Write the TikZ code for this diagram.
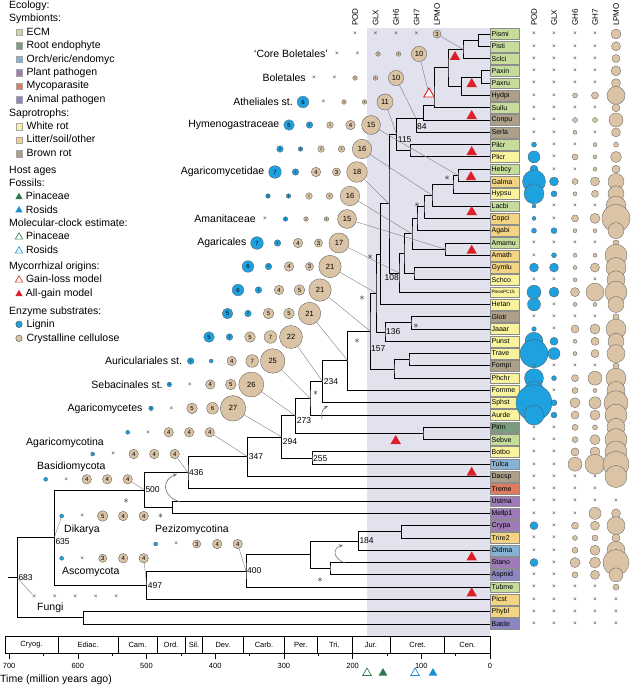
\documentclass[tikz,border=0pt]{standalone}
\usepackage{fontspec}
\setmainfont{Liberation Sans}
\usetikzlibrary{positioning,shapes.geometric,arrows.meta}

\definecolor{ecm}{HTML}{C5DC9B}
\definecolor{rootend}{HTML}{7C9C80}
\definecolor{orch}{HTML}{86B3D3}
\definecolor{plantpath}{HTML}{A07BBA}
\definecolor{mycopar}{HTML}{DD7C5E}
\definecolor{animpath}{HTML}{8B87C3}
\definecolor{whiterot}{HTML}{FAF39E}
\definecolor{litter}{HTML}{F3D384}
\definecolor{brownrot}{HTML}{ADA08B}
\definecolor{ligblue}{HTML}{1DA1DF}
\definecolor{celtan}{HTML}{DBC4A6}
\definecolor{jurshade}{HTML}{E2E1EE}
\definecolor{gainred}{HTML}{DA2128}
\definecolor{pingreen}{HTML}{2E7A4C}
\definecolor{rosblue}{HTML}{1C8FD2}

% number size inside the ancestral-state circles
\newcommand\numfont[1]{\ifnum#1<3 \fontsize{3.6}{4}\selectfont\else\ifnum#1<10 \fontsize{6}{7}\selectfont\else\fontsize{7.5}{8}\selectfont\fi\fi}
% one marker: x, b, bN or cN
\newcommand\mkr[4]{\mkrparse{#1}{#2}{#3}#4\relax}
\def\mkrparse#1#2#3#4#5\relax{%
  \if x#4\node[nomark] (#1) at (#2,#3) {×};\fi
  \if b#4\ifx\relax#5\relax\node[lig=1, minimum size=4pt] (#1) at (#2,#3) {};\else\node[lig=#5] (#1) at (#2,#3) {#5};\fi\fi
  \if c#4\node[cel=#5] (#1) at (#2,#3) {#5};\fi}
% a row of five markers
\newcommand\cladrow[4]{\foreach \s [count=\k] in {#4}{%
  \pgfmathsetmacro\px{#2+20.5*(\k-1)}%
  \edef\tmp{\noexpand\mkrparse{#1\k}{\px}{#3}\s\relax}\tmp}}
% right-hand gene counts
\newcommand\rcirc[5]{\ifdim#4pt>0pt \node[datac, fill=#5, minimum size={2*#4}] (#1) at (#2,#3) {};\else\ifdim#4pt=0pt \node[nomark] (#1) at (#2,#3) {×};\fi\fi}

\def\taxadata{Pismi/ecm/0/0/0/0/5, Pisti/ecm/0/0/0/0/4.5, Sclci/ecm/0/0/0/0/4,
 Paxin/ecm/0/0/0/0/5, Paxru/ecm/0/0/0/0/4.5, Hydpi/brownrot/0/0/2.5/3.5/9,
 Suilu/ecm/0/0/0/0/4, Conpu/brownrot/0/0/2.5/2.5/7, Serla/brownrot/0/0/2/0/4.5,
 Pilcr/ecm/2.5/0/0/2/2.5, Plicr/whiterot/6/0/3/2/5.5, Hebcy/ecm/4/0/0/2/4,
 Galma/litter/11.5/4.5/3/4.5/8, Hypsu/whiterot/10/3/2/3.5/8, Lacbi/ecm/2/0/0/0/10,
 Copci/litter/2/0/3.5/5/14, Agabi/litter/2.5/3/2/2/8, Amamu/ecm/0/0/0/0/3,
 Amath/litter/0/2.5/2/2/11, Gymlu/litter/4.5/4.5/2/4.5/10, Schco/whiterot/0/0/2/0/9,
 PleosPC15/whiterot/7/5/4.5/9/11, Hetan/whiterot/6.5/0/2/2/8, Glotr/brownrot/0/0/0/0/3,
 Jaaar/whiterot/2.3/0/4/5/10, Punst/whiterot/9/4/2/4/8, Trave/whiterot/14/6/2/4/9,
 Fompi/brownrot/2/0/0/0/3, Phchr/whiterot/9.5/2.5/3.5/7/10, Fomme/whiterot/9.5/0/3/2/9,
 Sphst/whiterot/18/3/5/6/12, Aurde/whiterot/10/3/4/5/11, Pirin/rootend/0/0/3/2.5/9,
 Sebve/ecm/0/0/3/5/11, Botbo/whiterot/0/0/4/5/11, Tulca/orch/0/0/7/10/13,
 Dacsp/brownrot/0/0/0/0/11, Treme/mycopar/0/0/0/0/-1, Ustma/plantpath/0/0/0/0/0,
 Mellp1/plantpath/0/0/0/6/4.5, Crypa/plantpath/4/0/3.5/4.5/9, Trire2/litter/0/0/2.5/3/4,
 Oidma/orch/0/0/3/5/9, Stano/plantpath/4/0/5/5.5/13, Aspnid/animpath/0/0/3/4.5/7,
 Tubme/ecm/0/0/0/0/3, Picst/litter/0/0/0/0/0, Phybl/litter/0/0/0/0/0, Batde/animpath/0/0/0/0/0}

\begin{document}
\begin{tikzpicture}[x=1pt,y=-1pt,
  branch/.style={line width=.9pt},
  gline/.style={draw=black!50, line width=.4pt},
  garrow/.style={draw=black!55, line width=.6pt, -{Stealth[length=4pt,width=3.6pt]}},
  taxon/.style={anchor=west, draw=black!45, line width=.3pt, minimum height=10.8pt,
    text width=26pt, inner xsep=1.5pt, inner ysep=0pt, font=\fontsize{7}{8}\selectfont},
  datac/.style={circle, draw=black!65, line width=.3pt, inner sep=0pt},
  lig/.style={circle, draw=black!65, fill=ligblue, line width=.3pt, inner sep=0pt,
    minimum size={4.6*(#1)^0.52}, font=\numfont{#1}},
  cel/.style={circle, draw=black!70, fill=celtan, line width=.3pt, inner sep=0pt,
    minimum size={4.6*(#1)^0.52}, font=\numfont{#1}},
  nomark/.style={inner sep=0pt, font=\fontsize{6.5}{6.5}\selectfont, text=black!75},
  clade/.style={font=\fontsize{10.5}{12}\selectfont, inner sep=0pt},
  lhead/.style={anchor=west, font=\fontsize{10.5}{12}\selectfont, inner sep=0pt, text height=7.5pt, text depth=2pt},
  litem/.style={font=\fontsize{10.5}{12}\selectfont, inner sep=0pt, text height=7.5pt, text depth=2pt},
  swatch/.style={minimum size=6.5pt, inner sep=0pt, draw=black!35, line width=.3pt},
  legtri/.style={regular polygon, regular polygon sides=3, minimum size=8.5pt, inner sep=0pt},
  gaintri/.style={regular polygon, regular polygon sides=3, minimum size=12pt, inner sep=0pt, fill=gainred},
  lossopen/.style={regular polygon, regular polygon sides=3, minimum size=12pt, inner sep=0pt, draw=gainred, fill=white, line width=.9pt},
  nodelab/.style={font=\fontsize{8.5}{9}\selectfont, inner sep=1pt},
  supp/.style={font=\fontsize{10}{10}\selectfont, inner sep=0pt},
  colhead/.style={rotate=90, anchor=west, font=\fontsize{8}{9}\selectfont, inner sep=0pt},
  period/.style={font=\fontsize{7.5}{8}\selectfont, inner sep=0pt},
  ticklab/.style={font=\fontsize{7.5}{8}\selectfont, inner sep=0pt}]
\useasboundingbox (0,0) rectangle (632,685);
\fill[jurshade] (367,28) rectangle (490,636);

% legend
\node[lhead] (lgEco) at (9,6) {Ecology:};
\node[lhead] (lgSym) at (9,19) {Symbionts:};
\foreach \t/\c [count=\k] in {ECM/ecm, Root endophyte/rootend, {Orch/eric/endomyc}/orch,
  Plant pathogen/plantpath, Mycoparasite/mycopar, Animal pathogen/animpath} {
  \node[swatch, fill=\c] (swA\k) at (19,{32.3+13.48*(\k-1)}) {};
  \node[litem, right=4pt of swA\k] (ltA\k) {\t};
}
\node[lhead] (lgSap) at (9,113.3) {Saprotrophs:};
\foreach \t/\c [count=\k] in {White rot/whiterot, {Litter/soil/other}/litter, Brown rot/brownrot} {
  \node[swatch, fill=\c] (swB\k) at (19,{126.7+13.5*(\k-1)}) {};
  \node[litem, right=4pt of swB\k] (ltB\k) {\t};
}
\node[lhead] (lgHost) at (9,170.3) {Host ages};
\node[lhead] (lgFos) at (9,183.7) {Fossils:};
\node[legtri, fill=pingreen] (lgT1) at (19,197) {};
\node[litem, right=4pt of lgT1] {Pinaceae};
\node[legtri, fill=rosblue] (lgT2) at (19,210.3) {};
\node[litem, right=4pt of lgT2] {Rosids};
\node[lhead] (lgMol) at (9,223.7) {Molecular-clock estimate:};
\node[legtri, draw=pingreen, line width=.6pt] (lgT3) at (19,237) {};
\node[litem, right=4pt of lgT3] {Pinaceae};
\node[legtri, draw=rosblue, line width=.6pt] (lgT4) at (19,251) {};
\node[litem, right=4pt of lgT4] {Rosids};
\node[lhead] (lgMyc) at (9,266.3) {Mycorrhizal origins:};
\node[legtri, draw=gainred, line width=.6pt] (lgT5) at (19,280) {};
\node[litem, right=4pt of lgT5] {Gain-loss model};
\node[legtri, fill=gainred] (lgT6) at (19,294) {};
\node[litem, right=4pt of lgT6] {All-gain model};
\node[lhead] (lgEnz) at (9,311.3) {Enzyme substrates:};
\node[circle, draw=black!70, fill=ligblue, minimum size=6.5pt, inner sep=0pt] (lgC1) at (19,324.3) {};
\node[litem, right=4pt of lgC1] {Lignin};
\node[circle, draw=black!70, fill=celtan, minimum size=6.5pt, inner sep=0pt] (lgC2) at (19,338.3) {};
\node[litem, right=4pt of lgC2] {Crystalline cellulose};

% taxa
\foreach \nm/\col/\p/\g/\hs/\hv/\l [count=\i from 0] in \taxadata {
  \pgfmathsetmacro\yy{34+12.2917*\i}
  \node[taxon, fill=\col] (\nm) at (490,\yy) {\ifnum\i=21 \fontsize{4.6}{5}\selectfont\fi\nm};
}

% internal nodes
\coordinate (nA) at (478.5,40.15);
\coordinate (nB) at (463,49.36);
\coordinate (nC) at (481.7,77.02);
\coordinate (nD) at (461.7,86.24);
\coordinate (nE) at (448,67.80);
\coordinate (nF) at (434,105);
\coordinate (nG) at (423.3,118.5);
\coordinate (nH) at (416,118.5);
\coordinate (nI) at (410,150.77);
\coordinate (nBA) at (396.7,134.45);
\coordinate (nJ) at (458,175.36);
\coordinate (nK) at (453,184.57);
\coordinate (nL) at (432,195.33);
\coordinate (nM) at (424,206.85);
\coordinate (nN) at (417,218.76);
\coordinate (nO) at (445,249.10);
\coordinate (nP) at (412,233.93);
\coordinate (nQ) at (414,273.69);
\coordinate (nR) at (404,253.81);
\coordinate (nS) at (399,272.97);
\coordinate (nT) at (389,203.71);
\coordinate (nU) at (380.7,254.07);
\coordinate (nX) at (411,322.85);
\coordinate (nW) at (385,332.07);
\coordinate (nV) at (376,293.07);
\coordinate (nZa) at (409,359.73);
\coordinate (nZb) at (394,368.95);
\coordinate (nY) at (370,331.01);
\coordinate (nAA) at (347.7,360.74);
\coordinate (nAB) at (322.7,381.74);
\coordinate (nAC) at (310,398.39);
\coordinate (nAD) at (423,433.48);
\coordinate (nAE) at (295.7,415.94);
\coordinate (nAG) at (312,458.07);
\coordinate (nAF) at (281.7,437.0);
\coordinate (nAH) at (247.7,456.75);
\coordinate (nAI) at (188,472.77);
\coordinate (nAK) at (172.7,507.23);
\coordinate (nAJ) at (144.3,490.0);
\coordinate (nAL) at (401.7,531.81);
\coordinate (nAM) at (358.3,541.03);
\coordinate (nAN) at (330,568.69);
\coordinate (nAO) at (310.7,554.86);
\coordinate (nAP) at (246,570.99);
\coordinate (nAQ) at (146.7,585.2);
\coordinate (nAR) at (54.3,537.6);
\coordinate (nAS) at (83.7,617.86);
\coordinate (nAT) at (17.3,577.73);
\coordinate (root) at (8,577.73);

% branches
\draw[branch] (Pismi.west) -| (nA) |- (Pisti.west);
\draw[branch] (nA) -| (nB) |- (Sclci.west);
\draw[branch] (Paxin.west) -| (nC) |- (Paxru.west);
\draw[branch] (nC) -| (nD) |- (Hydpi.west);
\draw[branch] (nB) -| (nE) |- (nD);
\draw[branch] (nE) -| (nF) |- (Suilu.west);
\draw[branch] (nF) -| (nG) |- (Conpu.west);
\draw[branch] (nG) -| (nH) |- (Serla.west);
\draw[branch] (Pilcr.west) -| (nI) |- (Plicr.west);
\draw[branch] (nH) -| (nBA) |- (nI);
\draw[branch] (Hebcy.west) -| (nJ) |- (Galma.west);
\draw[branch] (nJ) -| (nK) |- (Hypsu.west);
\draw[branch] (nK) -| (nL) |- (Lacbi.west);
\draw[branch] (nL) -| (nM) |- (Copci.west);
\draw[branch] (nM) -| (nN) |- (Agabi.west);
\draw[branch] (Amamu.west) -| (nO) |- (Amath.west);
\draw[branch] (nN) -| (nP) |- (nO);
\draw[branch] (Gymlu.west) -| (nQ) |- (Schco.west);
\draw[branch] (nP) -| (nR) |- (nQ);
\draw[branch] (nR) -| (nS) |- (PleosPC15.west);
\draw[branch] (nBA) -| (nT) |- (nS);
\draw[branch] (nT) -| (nU) |- (Hetan.west);
\draw[branch] (Glotr.west) -| (nX) |- (Jaaar.west);
\draw[branch] (nX) -| (nW) |- (Punst.west);
\draw[branch] (nU) -| (nV) |- (nW);
\draw[branch] (Trave.west) -| (nZa) |- (Fompi.west);
\draw[branch] (nZa) -| (nZb) |- (Phchr.west);
\draw[branch] (nV) -| (nY) |- (nZb);
\draw[branch] (nY) -| (nAA) |- (Fomme.west);
\draw[branch] (nAA) -| (nAB) |- (Sphst.west);
\draw[branch] (nAB) -| (nAC) |- (Aurde.west);
\draw[branch] (Pirin.west) -| (nAD) |- (Sebve.west);
\draw[branch] (nAC) -| (nAE) |- (nAD);
\draw[branch] (Botbo.west) -| (nAG) |- (Tulca.west);
\draw[branch] (nAE) -| (nAF) |- (nAG);
\draw[branch] (nAF) -| (nAH) |- (Dacsp.west);
\draw[branch] (nAH) -| (nAI) |- (Treme.west);
\draw[branch] (Ustma.west) -| (nAK) |- (Mellp1.west);
\draw[branch] (nAI) -| (nAJ) |- (nAK);
\draw[branch] (Crypa.west) -| (nAL) |- (Trire2.west);
\draw[branch] (nAL) -| (nAM) |- (Oidma.west);
\draw[branch] (Stano.west) -| (nAN) |- (Aspnid.west);
\draw[branch] (nAM) -| (nAO) |- (nAN);
\draw[branch] (nAO) -| (nAP) |- (Tubme.west);
\draw[branch] (nAP) -| (nAQ) |- (Picst.west);
\draw[branch] (nAJ) -| (nAR) |- (nAQ);
\draw[branch] (Phybl.west) -| (nAS) |- (Batde.west);
\draw[branch] (nAR) -| (nAT) |- (nAS);
\draw[branch] (root) -- (nAT);

% node ages
\node[nodelab, anchor=west] (a84) at (416,127) {84};
\node[nodelab, anchor=north west] (a115) at ([yshift=-1pt]nBA) {115};
\node[nodelab, anchor=north east] (a108) at ([xshift=1pt]nS) {108};
\node[nodelab, anchor=west] (a136) at (nW) {136};
\node[nodelab, anchor=west] (a157) at (370,349) {157};
\node[nodelab, anchor=west] (a234) at (nAB) {234};
\node[nodelab, anchor=north west] (a273) at (nAE) {273};
\node[nodelab, anchor=north west] (a294) at (nAF) {294};
\node[nodelab, anchor=west] (a347) at (nAH) {347};
\node[nodelab, anchor=west] (a255) at (nAG) {255};
\node[nodelab, anchor=west] (a436) at (nAI) {436};
\node[nodelab, anchor=west] (a500) at (nAJ) {500};
\node[nodelab, anchor=north west] (a635) at (nAR) {635};
\node[nodelab, anchor=west] (a683) at (nAT) {683};
\node[nodelab, anchor=west] (a497) at (nAQ) {497};
\node[nodelab, anchor=west] (a400) at (nAP) {400};
\node[nodelab, anchor=west] (a184) at (nAM) {184};

% support stars
\foreach \sx/\sy [count=\k] in {447/178, 417/205, 370/257, 362/298, 416/326, 357/341,
  315.7/392.7, 126/501, 160.7/516, 320/580}
  \node[supp] (st\k) at (\sx,\sy) {$\ast$};

% mycorrhizal origins on the tree
\foreach \tx/\ty [count=\k] in {455/57, 471.7/84, 471.7/116, 471.7/152, 471/177, 471.7/212,
  471.7/250.7, 395.7/441, 471.7/472.7, 471.7/557.3, 471.7/593.3}
  \node[gaintri] (gt\k) at (\tx,\ty) {};
\node[lossopen] (gl1) at (429,94) {};

% shift arrows
\draw[garrow] (322,419) to[bend left=40] (328,406);
\draw[garrow] (180,502) .. controls (160,495) and (163,479) .. (177,474);
\draw[garrow] (345,563) .. controls (332,558) and (333,548) .. (343,545);

% ancestral gene counts
\foreach \h/\hx in {POD/355, GLX/375.5, GH6/396, GH7/416.5, LPMO/437}
  \node[colhead] (hl\h) at (\hx,26) {\h};
\cladrow{ra}{355}{34}{x,x,x,x,c3}
\cladrow{rb}{337}{54}{x,x,c1,c1,c10}
\cladrow{rc}{314}{78}{x,x,c1,c1,c10}
\cladrow{rd}{303}{102}{b6,x,c1,c1,c11}
\cladrow{re}{289}{125}{b5,b2,c2,c4,c15}
\cladrow{rf}{280}{149}{b2,b1,c2,c2,c16}
\cladrow{rg}{275}{172}{b7,b2,c4,c3,c18}
\cladrow{rh}{268}{196}{b1,b1,c2,c2,c16}
\cladrow{ri}{265}{219}{x,b1,c1,c1,c15}
\cladrow{rj}{257}{243}{b7,b2,c4,c3,c17}
\cladrow{rk}{248}{266.5}{b6,b2,c4,c3,c21}
\cladrow{rl}{238}{290}{b6,b2,c4,c5,c21}
\cladrow{rm}{227.5}{313.5}{b5,b2,c5,c5,c21}
\cladrow{rn}{209}{337}{b5,b2,c5,c7,c22}
\cladrow{ro}{190.7}{361}{b2,b,c4,c7,c25}
\cladrow{rp}{169.3}{384.5}{b1,x,c4,c5,c26}
\cladrow{rq}{151}{408.3}{b1,x,c5,c6,c27}
\cladrow{rr}{127.7}{432.3}{b,x,c4,c4,c4}
\cladrow{rs}{92.7}{454}{b,x,c4,c4,c4}
\cladrow{rt}{45.7}{479.3}{b,x,c4,c4,c4}
\cladrow{ru}{61.7}{516}{b,x,c5,c4,c4}
\cladrow{rv}{155.7}{544}{b,x,c3,c4,c4}
\cladrow{rw}{61.7}{558.3}{b,x,c3,c4,c4}
\cladrow{rx}{34.3}{596.7}{x,x,x,x,x}

\node[clade, left=7pt of rb1] (cCore) {‘Core Boletales’};
\node[clade, left=6pt of rc1] (cBol) {Boletales};
\node[clade, left=4pt of rd1] (cAth) {Atheliales st.};
\node[clade, left=4pt of re1] (cHym) {Hymenogastraceae};
\node[clade, left=4pt of rg1] (cAgd) {Agaricomycetidae};
\node[clade, left=7pt of ri1] (cAma) {Amanitaceae};
\node[clade, left=4pt of rj1] (cAgl) {Agaricales};
\node[clade, left=5pt of ro1] (cAur) {Auriculariales st.};
\node[clade, left=4pt of rp1] (cSeb) {Sebacinales st.};
\node[clade, left=6pt of rq1] (cAgm) {Agaricomycetes};
\node[clade, anchor=west] (cAgt) at (26,443) {Agaricomycotina};
\node[clade, anchor=west] (cBas) at (37,466.7) {Basidiomycota};
\node[clade, anchor=west] (cDik) at (64,529.3) {Dikarya};
\node[clade, anchor=west] (cPez) at (155,530) {Pezizomycotina};
\node[clade, anchor=west] (cAsc) at (62,571.7) {Ascomycota};
\node[clade, anchor=west] (cFun) at (37,608) {Fungi};

\draw[gline] (ra5) -- (nB);
\draw[gline] (rb5) -- (gl1);
\draw[gline] (rc5) -- (nH);
\draw[gline] (rd5) -- (nBA);
\draw[gline] (re5) -- (nJ);
\draw[gline] (rf5) -- (nL);
\draw[gline] (rg5) -- (nT);
\draw[gline] (rh5) -- (nP);
\draw[gline] (ri5) -- (nO);
\draw[gline] (rj5) -- (nS);
\draw[gline] (rk5) -- (nV);
\draw[gline] (rl5) -- (nY);
\draw[gline] (rm5) -- (nAA);
\draw[gline] (rn5) -- (nAB);
\draw[gline] (ro5) -- (nAC);
\draw[gline] (rp5) -- (nAE);
\draw[gline] (rq5) -- (nAF);
\draw[gline] (rr5) -- (nAH);
\draw[gline] (rs5) -- (nAI);
\draw[gline] (rt5) -- (nAJ);
\draw[gline] (ru1) -- (nAR);
\draw[gline] (rv5) -- (nAP);
\draw[gline] (rw5) -- (nAQ);
\draw[gline] (rx1) -- (nAT);

% gene counts of the sampled genomes
\foreach \h/\hx in {POD/534, GLX/554, GH6/575, GH7/595, LPMO/616}
  \node[colhead] (hr\h) at (\hx,26) {\h};
\foreach \nm/\col/\p/\g/\hs/\hv/\l [count=\i from 0] in \taxadata {
  \pgfmathsetmacro\yy{34+12.2917*\i}
  \rcirc{pod\i}{534}{\yy}{\p}{ligblue}
  \rcirc{glx\i}{554}{\yy}{\g}{ligblue}
  \rcirc{ghs\i}{575}{\yy}{\hs}{celtan}
  \rcirc{ghv\i}{595}{\yy}{\hv}{celtan}
  \rcirc{lpm\i}{616}{\yy}{\l}{celtan}
}

% geological time scale
\draw[line width=.5pt] (5,636) rectangle (490,653);
\foreach \d in {58,118.3,156.8,185.7,202.2,243.4,284.6,316.9,351.9,390.4,444.7}
  \draw[line width=.5pt] (\d,636) -- (\d,653);
\foreach \pn/\px [count=\k] in {Cryog./31.5, Ediac./88, Cam./137.5, Ord./171, Sil./194,
  Dev./223, Carb./264, Per./300.7, Tri./334.4, Jur./371, Cret./417.5, Cen./467.4}
  \node[period] (per\k) at (\px,644.5) {\pn};
\foreach \t in {0,100,...,700} {
  \draw[line width=.5pt] ({490-0.687*\t},653) -- ++(0,6);
  \node[ticklab] (tk\t) at ({490-0.687*\t},665.5) {\t};
}
\foreach \t in {50,150,...,650}
  \draw[line width=.5pt] ({490-0.687*\t},653) -- ++(0,3);
\node[clade, anchor=west] (tlabel) at (0,680) {Time (million years ago)};
\node[legtri, minimum size=10pt, draw=pingreen, line width=.7pt] (hostA) at (367,673) {};
\node[legtri, minimum size=10pt, fill=pingreen] (hostB) at (383,673) {};
\node[legtri, minimum size=10pt, draw=rosblue, line width=.7pt] (hostC) at (415,673) {};
\node[legtri, minimum size=10pt, fill=rosblue] (hostD) at (433,673) {};
\end{tikzpicture}
\end{document}
